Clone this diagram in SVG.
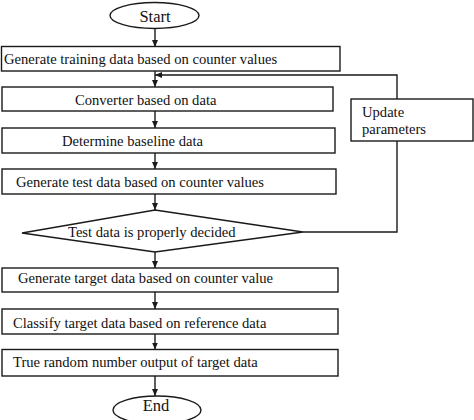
<svg xmlns="http://www.w3.org/2000/svg" width="474" height="420" viewBox="0 0 474 420">
<defs>
<style>
.box{fill:#fff;stroke:#1a1a1a;stroke-width:1.4}
.t{font-size:14.6px;fill:#111}
.tt{font-size:16.5px;fill:#111}
.c{fill:none;stroke:#1a1a1a;stroke-width:1.4}
</style>
<marker id="ah" markerWidth="8" markerHeight="8" refX="7" refY="4" orient="auto" markerUnits="userSpaceOnUse">
<path d="M0,1 L7,4 L0,7 Z" fill="#1a1a1a"/>
</marker>
</defs>
<rect width="474" height="420" fill="#fff"/>
<g id="connectors">
<line class="c" x1="155" y1="28" x2="155" y2="47" marker-end="url(#ah)"/>
<line class="c" x1="155" y1="71" x2="155" y2="87" marker-end="url(#ah)"/>
<line class="c" x1="155" y1="111" x2="155" y2="128" marker-end="url(#ah)"/>
<line class="c" x1="155" y1="153" x2="155" y2="169" marker-end="url(#ah)"/>
<line class="c" x1="155" y1="194" x2="155" y2="210" marker-end="url(#ah)"/>
<line class="c" x1="155" y1="252" x2="155" y2="268" marker-end="url(#ah)"/>
<line class="c" x1="155" y1="292" x2="155" y2="309" marker-end="url(#ah)"/>
<line class="c" x1="155" y1="334" x2="155" y2="349.5" marker-end="url(#ah)"/>
<line class="c" x1="155" y1="376" x2="155" y2="396" marker-end="url(#ah)"/>
<polyline class="c" points="303,232 397,232 397,141"/>
<polyline class="c" points="397,99 397,75 155,75" marker-end="url(#ah)"/>
</g>
<g font-family="'Liberation Serif', 'DejaVu Serif', serif">
<g id="start">
<ellipse class="box" cx="154.5" cy="15.5" rx="44.5" ry="13"/>
<text class="tt" x="155" y="21.5" text-anchor="middle">Start</text>
</g>
<g id="gen-training">
<rect class="box" x="1.5" y="46.5" width="338.5" height="24.5"/>
<text class="t" x="4" y="63.5">Generate training data based on counter values</text>
</g>
<g id="converter">
<rect class="box" x="2" y="87" width="331" height="24"/>
<text class="t" x="75" y="105">Converter based on data</text>
</g>
<g id="baseline">
<rect class="box" x="2" y="128" width="333" height="25"/>
<text class="t" x="62" y="146">Determine baseline data</text>
</g>
<g id="gen-test">
<rect class="box" x="2" y="169" width="334" height="25"/>
<text class="t" x="16" y="187">Generate test data based on counter values</text>
</g>
<g id="decision">
<polygon class="box" points="155,210 303,232 155,252 22,233"/>
<text class="t" x="68" y="237">Test data is properly decided</text>
</g>
<g id="update">
<rect class="box" x="351" y="99" width="122" height="42"/>
<text class="t" x="362" y="117">Update</text>
<text class="t" x="362" y="134">parameters</text>
</g>
<g id="gen-target">
<rect class="box" x="2" y="268" width="336" height="24"/>
<text class="t" x="18" y="283">Generate target data based on counter value</text>
</g>
<g id="classify">
<rect class="box" x="2" y="309" width="336" height="25"/>
<text class="t" x="13" y="328">Classify target data based on reference data</text>
</g>
<g id="output">
<rect class="box" x="2" y="349.5" width="336" height="26.5"/>
<text class="t" x="13" y="367">True random number output of target data</text>
</g>
<g id="end">
<ellipse class="box" cx="157" cy="410" rx="44" ry="14"/>
<text class="tt" x="156" y="411" text-anchor="middle">End</text>
</g>
</g>
</svg>
